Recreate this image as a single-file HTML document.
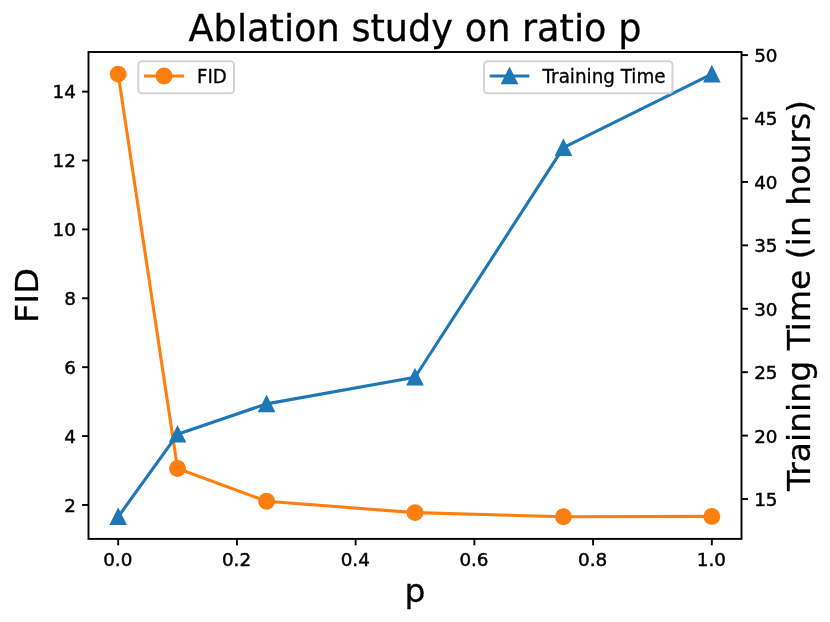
<!DOCTYPE html>
<html lang="en"><head><meta charset="utf-8"><title>Ablation study on ratio p</title>
<style>html,body{margin:0;padding:0;background:#fff}body{width:830px;height:622px;overflow:hidden}text{stroke:#000;stroke-width:.3px}g text{stroke-width:inherit}</style></head>
<body>
<svg width="830" height="622" viewBox="0 0 830 622" style="display:block" font-family="'DejaVu Sans','Liberation Sans',sans-serif" fill="#000">
<rect width="830" height="622" fill="#fff"/>
<g stroke="#000" stroke-width="1.900" fill="none">
<line x1="118.18" y1="538.90" x2="118.18" y2="545.32"/>
<line x1="236.91" y1="538.90" x2="236.91" y2="545.32"/>
<line x1="355.64" y1="538.90" x2="355.64" y2="545.32"/>
<line x1="474.36" y1="538.90" x2="474.36" y2="545.32"/>
<line x1="593.09" y1="538.90" x2="593.09" y2="545.32"/>
<line x1="711.82" y1="538.90" x2="711.82" y2="545.32"/>
<line x1="88.50" y1="504.96" x2="82.08" y2="504.96"/>
<line x1="88.50" y1="436.07" x2="82.08" y2="436.07"/>
<line x1="88.50" y1="367.18" x2="82.08" y2="367.18"/>
<line x1="88.50" y1="298.28" x2="82.08" y2="298.28"/>
<line x1="88.50" y1="229.39" x2="82.08" y2="229.39"/>
<line x1="88.50" y1="160.50" x2="82.08" y2="160.50"/>
<line x1="88.50" y1="91.61" x2="82.08" y2="91.61"/>
<line x1="741.50" y1="499.01" x2="747.92" y2="499.01"/>
<line x1="741.50" y1="435.60" x2="747.92" y2="435.60"/>
<line x1="741.50" y1="372.18" x2="747.92" y2="372.18"/>
<line x1="741.50" y1="308.77" x2="747.92" y2="308.77"/>
<line x1="741.50" y1="245.35" x2="747.92" y2="245.35"/>
<line x1="741.50" y1="181.94" x2="747.92" y2="181.94"/>
<line x1="741.50" y1="118.52" x2="747.92" y2="118.52"/>
<line x1="741.50" y1="55.11" x2="747.92" y2="55.11"/>
</g>
<g font-size="18.33" style="stroke-width:.45px">
<text transform="translate(117.78 566.0) scale(1 1.0)" text-anchor="middle">0.0</text>
<text transform="translate(236.51 566.0) scale(1 1.0)" text-anchor="middle">0.2</text>
<text transform="translate(355.24 566.0) scale(1 1.0)" text-anchor="middle">0.4</text>
<text transform="translate(473.96 566.0) scale(1 1.0)" text-anchor="middle">0.6</text>
<text transform="translate(592.69 566.0) scale(1 1.0)" text-anchor="middle">0.8</text>
<text transform="translate(711.42 566.0) scale(1 1.0)" text-anchor="middle">1.0</text>
<text transform="translate(75.9 511.71) scale(1 1.0)" text-anchor="end">2</text>
<text transform="translate(75.9 442.82) scale(1 1.0)" text-anchor="end">4</text>
<text transform="translate(75.9 373.93) scale(1 1.0)" text-anchor="end">6</text>
<text transform="translate(75.9 305.03) scale(1 1.0)" text-anchor="end">8</text>
<text transform="translate(75.9 236.14) scale(1 1.0)" text-anchor="end">10</text>
<text transform="translate(75.9 167.25) scale(1 1.0)" text-anchor="end">12</text>
<text transform="translate(75.9 98.36) scale(1 1.0)" text-anchor="end">14</text>
<text transform="translate(754.2 505.96) scale(1 1.0)">15</text>
<text transform="translate(754.2 442.55) scale(1 1.0)">20</text>
<text transform="translate(754.2 379.13) scale(1 1.0)">25</text>
<text transform="translate(754.2 315.72) scale(1 1.0)">30</text>
<text transform="translate(754.2 252.30) scale(1 1.0)">35</text>
<text transform="translate(754.2 188.89) scale(1 1.0)">40</text>
<text transform="translate(754.2 125.47) scale(1 1.0)">45</text>
<text transform="translate(754.2 62.06) scale(1 1.0)">50</text>
</g>
<polyline points="118.18,74.13 177.55,468.54 266.59,501.27 415.00,512.63 563.41,516.77 711.82,516.42" fill="none" stroke="#ff7f0e" stroke-width="3.100" stroke-linejoin="round" stroke-linecap="square"/>
<circle cx="118.18" cy="74.13" r="8.45" fill="#ff7f0e"/>
<circle cx="177.55" cy="468.54" r="8.45" fill="#ff7f0e"/>
<circle cx="266.59" cy="501.27" r="8.45" fill="#ff7f0e"/>
<circle cx="415.00" cy="512.63" r="8.45" fill="#ff7f0e"/>
<circle cx="563.41" cy="516.77" r="8.45" fill="#ff7f0e"/>
<circle cx="711.82" cy="516.42" r="8.45" fill="#ff7f0e"/>
<rect x="138.3" y="61.2" width="95.70" height="32.15" rx="3.7" ry="3.7" fill="#fff" fill-opacity="0.8" stroke="#d4d4d4" stroke-width="2.0"/>
<line x1="145.5" y1="75.97" x2="182.5" y2="75.97" stroke="#ff7f0e" stroke-width="3.100" stroke-linecap="square"/>
<circle cx="164.0" cy="75.97" r="8.45" fill="#ff7f0e"/>
<text transform="translate(197.0 82.95) scale(0.995 1.04)" font-size="18.33">FID</text>
<polyline points="118.18,516.77 177.55,434.33 266.59,403.89 415.00,377.26 563.41,147.69 711.82,74.13" fill="none" stroke="#1f77b4" stroke-width="3.100" stroke-linejoin="round" stroke-linecap="square"/>
<polygon points="118.18,509.43 110.85,524.10 125.52,524.10" fill="#1f77b4" stroke="#1f77b4" stroke-width="1.833" stroke-linejoin="miter" stroke-miterlimit="10"/>
<polygon points="177.55,427.00 170.21,441.66 184.88,441.66" fill="#1f77b4" stroke="#1f77b4" stroke-width="1.833" stroke-linejoin="miter" stroke-miterlimit="10"/>
<polygon points="266.59,396.56 259.26,411.22 273.92,411.22" fill="#1f77b4" stroke="#1f77b4" stroke-width="1.833" stroke-linejoin="miter" stroke-miterlimit="10"/>
<polygon points="415.00,369.92 407.67,384.59 422.33,384.59" fill="#1f77b4" stroke="#1f77b4" stroke-width="1.833" stroke-linejoin="miter" stroke-miterlimit="10"/>
<polygon points="563.41,140.36 556.08,155.03 570.74,155.03" fill="#1f77b4" stroke="#1f77b4" stroke-width="1.833" stroke-linejoin="miter" stroke-miterlimit="10"/>
<polygon points="711.82,66.80 704.48,81.47 719.15,81.47" fill="#1f77b4" stroke="#1f77b4" stroke-width="1.833" stroke-linejoin="miter" stroke-miterlimit="10"/>
<rect x="484.0" y="61.2" width="188.50" height="32.10" rx="3.7" ry="3.7" fill="#fff" fill-opacity="0.8" stroke="#d4d4d4" stroke-width="2.0"/>
<line x1="491.2" y1="75.97" x2="527.8" y2="75.97" stroke="#1f77b4" stroke-width="3.100" stroke-linecap="square"/>
<polygon points="509.50,68.64 502.17,83.30 516.83,83.30" fill="#1f77b4" stroke="#1f77b4" stroke-width="1.833" stroke-linejoin="miter" stroke-miterlimit="10"/>
<text transform="translate(542.6 82.95) scale(1 1.04)" font-size="18.33">Training Time</text>
<rect x="88.5" y="52.0" width="653.0" height="486.90" fill="none" stroke="#000" stroke-width="1.900" stroke-linejoin="miter"/>
<text x="415" y="40.8" font-size="36.67" text-anchor="middle">Ablation study on ratio p</text>
<text transform="translate(415 601.8) scale(1 0.978)" font-size="33.0" text-anchor="middle">p</text>
<text transform="translate(38.05,295.55) rotate(-90) scale(1.015 0.962)" font-size="33.0" text-anchor="middle">FID</text>
<text transform="translate(810.3,295.55) rotate(-90) scale(1 0.985)" font-size="33.0" text-anchor="middle">Training Time (in hours)</text>
</svg>
</body></html>
